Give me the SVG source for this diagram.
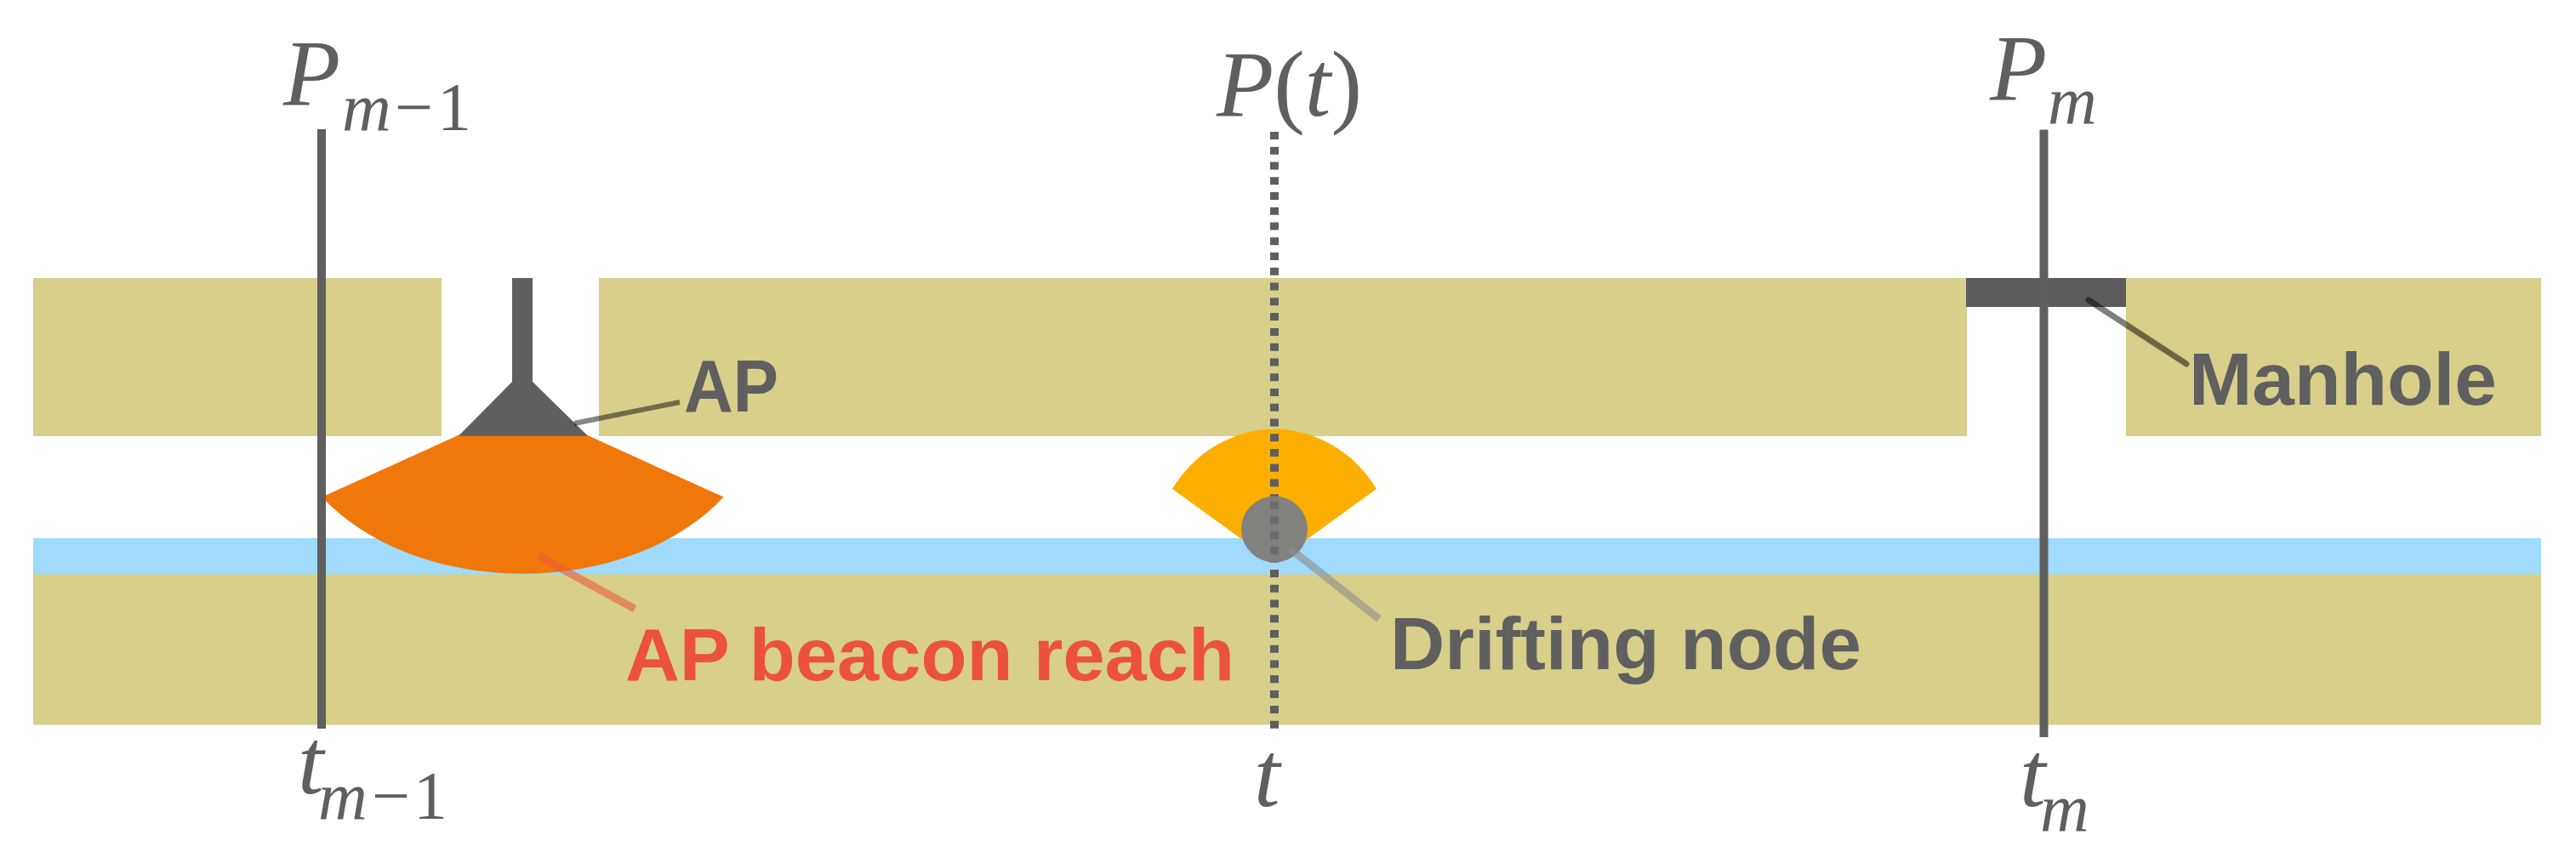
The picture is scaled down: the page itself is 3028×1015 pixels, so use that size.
<svg xmlns="http://www.w3.org/2000/svg" width="3028" height="1015" viewBox="0 0 3028 1015">
<style>
.tan{fill:#D7CF8A}
.water{fill:#A0DAFC}
.gray{fill:#5F5F5F}
.tl{stroke:#5F5F5F;stroke-width:10;fill:none}
.math{font-family:"Liberation Serif","Times New Roman",serif;fill:#5F5F5F}
.it{font-style:italic}
.lbl{font-family:"Liberation Sans",Arial,Helvetica,sans-serif;font-weight:bold;fill:#5F5F5F;font-size:88px}
.lead{fill:none}
</style>
<rect width="3028" height="1015" fill="#FFFFFF"/>
<g id="ground">
<rect class="tan" x="39" y="327" width="480" height="186"/>
<rect class="tan" x="704" y="327" width="1608" height="186"/>
<rect class="tan" x="2499" y="327" width="488" height="186"/>
<rect class="water" x="39" y="633" width="2948" height="43"/>
<rect class="tan" x="39" y="675.5" width="2948" height="177"/>
</g>
<g id="ap-reach">
<path d="M614.5 477.5 L378.5 584.5 A281 197.5 0 0 0 850.5 584.5 Z" fill="#F0780A"/>
</g>
<g id="ap">
<rect class="gray" x="602" y="327" width="24" height="125"/>
<path class="gray" d="M602 449 L626 449 L691 512.7 L539 512.7 Z"/>
</g>
<g id="manhole">
<rect x="2311" y="327" width="188" height="34" fill="#5C5C5C"/>
</g>
<g id="node-reach">
<path d="M1498 662 L1378 575 A144 157 0 0 1 1618 575 Z" fill="#FCAF00"/>
</g>
<g id="time-lines">
<line class="tl" x1="378" y1="152" x2="378" y2="857"/>
<line class="tl" x1="2402.5" y1="152.5" x2="2402.5" y2="867" stroke-width="9"/>
<line x1="1498" y1="155" x2="1498" y2="857" stroke="#5F5F5F" stroke-width="10" stroke-dasharray="9 8.76"/>
</g>
<g id="drifting-node">
<circle cx="1498" cy="622.5" r="39" fill="#808080" fill-opacity="0.98"/>
<line x1="1498" y1="583.5" x2="1498" y2="661.5" stroke="#5F5F5F" stroke-width="10" stroke-dasharray="9 8.76" stroke-dashoffset="-6.2" opacity="0.6"/>
</g>
<g id="connectors">
<line class="lead" x1="675" y1="498" x2="799" y2="473" stroke="#000" stroke-opacity="0.48" stroke-width="6"/>
<line class="lead" x1="2455" y1="353" x2="2570" y2="428" stroke="#000" stroke-opacity="0.5" stroke-width="7" stroke-linecap="round"/>
<line class="lead" x1="1516" y1="645" x2="1621" y2="728" stroke="#8C8C8C" stroke-opacity="0.6" stroke-width="9"/>
<line class="lead" x1="633" y1="654" x2="746" y2="716" stroke="#EC5A3A" stroke-opacity="0.6" stroke-width="9"/>
</g>
<g id="labels">
<text class="lbl" x="804" y="484" font-size="82" textLength="111" lengthAdjust="spacingAndGlyphs">AP</text>
<text class="lbl" x="735" y="800" textLength="716" lengthAdjust="spacingAndGlyphs" style="fill:#EC523B">AP beacon reach</text>
<text class="lbl" x="1634" y="786.5" textLength="554" lengthAdjust="spacingAndGlyphs">Drifting node</text>
<text class="lbl" x="2573" y="476" textLength="362" lengthAdjust="spacingAndGlyphs">Manhole</text>
</g>
<g id="math-labels">
<text class="math it" x="333" y="123" font-size="110">P</text>
<text class="math it" x="402" y="153" font-size="80">m</text>
<text class="math" x="464" y="153" font-size="80">−</text>
<text class="math" x="514" y="153" font-size="80">1</text>
<text class="math" x="1430" y="136" font-size="110"><tspan class="it">P</tspan>(<tspan class="it">t</tspan>)</text>
<text class="math it" x="2339" y="117" font-size="110">P</text>
<text class="math it" x="2407" y="145" font-size="80">m</text>
<text class="math it" x="350" y="933" font-size="110">t</text>
<text class="math it" x="374" y="963" font-size="80">m</text>
<text class="math" x="437" y="963" font-size="80">−</text>
<text class="math" x="486" y="963" font-size="80">1</text>
<text class="math it" x="1474" y="948" font-size="110">t</text>
<text class="math it" x="2374" y="948" font-size="110">t</text>
<text class="math it" x="2398" y="977" font-size="80">m</text>
</g>
</svg>
